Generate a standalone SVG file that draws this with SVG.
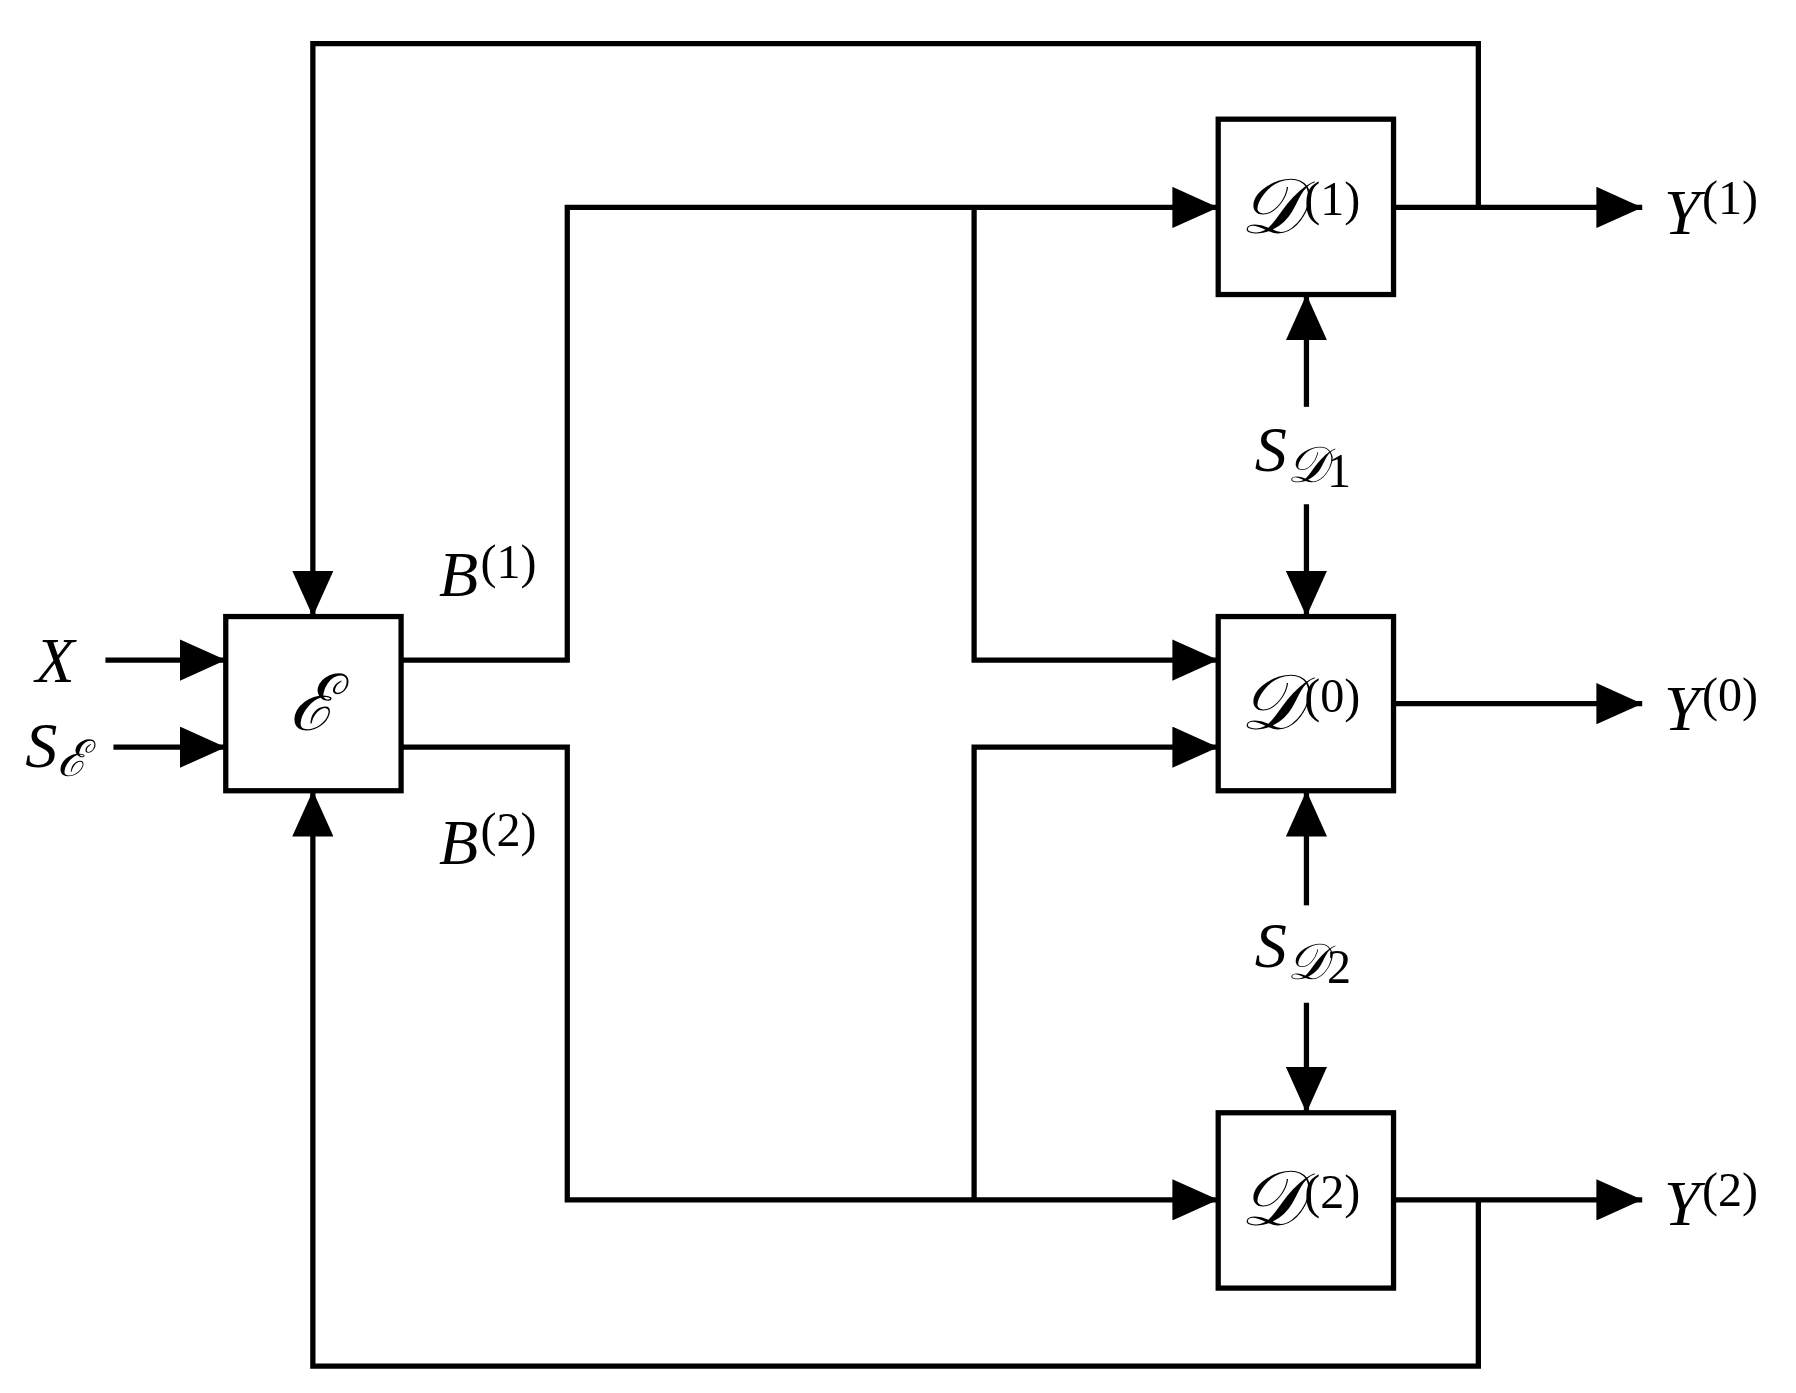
<svg xmlns="http://www.w3.org/2000/svg" width="1796" height="1393" viewBox="0 0 1796 1393">
<defs>
<style>
.box{fill:#fff;stroke:#000;stroke-width:4.6}
.ln{fill:none;stroke:#000;stroke-width:4.6;stroke-linejoin:miter}
.t{font-family:"Liberation Serif","DejaVu Serif",serif;font-size:56px;fill:#000}
.i{font-style:italic}
.s{font-family:"Liberation Serif",serif;font-size:42px;font-style:normal}
.cal{font-family:"DejaVu Serif","Liberation Serif",serif;font-style:italic;font-size:68px}
.calsub{font-family:"DejaVu Serif","Liberation Serif",serif;font-style:italic;font-size:44px}
</style>
<marker id="ah" markerUnits="userSpaceOnUse" markerWidth="42" markerHeight="36" refX="40" refY="18" orient="auto">
<path d="M0,0 L40,18 L0,36 z" fill="#000"/>
</marker>
</defs>
<rect width="1796" height="1393" fill="#fff"/>
<g transform="scale(1.146)">
<g id="connectors">
<polyline class="ln" points="1290,181 1290,38 273,38 273,538" marker-end="url(#ah)"/>
<polyline class="ln" points="1290,1047 1290,1192 273,1192 273,690" marker-end="url(#ah)"/>
<polyline class="ln" points="350,576 495,576 495,181 1063,181" marker-end="url(#ah)"/>
<polyline class="ln" points="850,181 850,576 1063,576" marker-end="url(#ah)"/>
<polyline class="ln" points="350,652 495,652 495,1047 1063,1047" marker-end="url(#ah)"/>
<polyline class="ln" points="850,1047 850,652 1063,652" marker-end="url(#ah)"/>
<line class="ln" x1="92" y1="576" x2="197" y2="576" marker-end="url(#ah)"/>
<line class="ln" x1="99" y1="652" x2="197" y2="652" marker-end="url(#ah)"/>
<line class="ln" x1="1216" y1="181" x2="1433" y2="181" marker-end="url(#ah)"/>
<line class="ln" x1="1216" y1="614" x2="1433" y2="614" marker-end="url(#ah)"/>
<line class="ln" x1="1216" y1="1047" x2="1433" y2="1047" marker-end="url(#ah)"/>
<line class="ln" x1="1140" y1="355" x2="1140" y2="257" marker-end="url(#ah)"/>
<line class="ln" x1="1140" y1="440" x2="1140" y2="538" marker-end="url(#ah)"/>
<line class="ln" x1="1140" y1="790" x2="1140" y2="690" marker-end="url(#ah)"/>
<line class="ln" x1="1140" y1="875" x2="1140" y2="971" marker-end="url(#ah)"/>
</g>
<g id="encoder">
<rect class="box" x="197" y="538" width="153" height="152"/>
<text class="t cal" x="273" y="637" text-anchor="middle">ℰ</text>
</g>
<g id="decoder1">
<rect class="box" x="1063" y="104" width="153" height="153"/>
<text class="t" x="1082" y="203"><tspan class="cal">𝒟</tspan><tspan class="s" dx="2" dy="-15">(1)</tspan></text>
</g>
<g id="decoder0">
<rect class="box" x="1063" y="538" width="153" height="152"/>
<text class="t" x="1082" y="636"><tspan class="cal">𝒟</tspan><tspan class="s" dx="2" dy="-15">(0)</tspan></text>
</g>
<g id="decoder2">
<rect class="box" x="1063" y="971" width="153" height="153"/>
<text class="t" x="1082" y="1069"><tspan class="cal">𝒟</tspan><tspan class="s" dx="2" dy="-15">(2)</tspan></text>
</g>
<g id="labels">
<text class="t i" x="48" y="595" text-anchor="middle">X</text>
<text class="t" x="22" y="669"><tspan class="i">S</tspan><tspan class="calsub" dy="8">ℰ</tspan></text>
<text class="t" x="383" y="520"><tspan class="i">B</tspan><tspan class="s" dx="2" dy="-16">(1)</tspan></text>
<text class="t" x="383" y="754"><tspan class="i">B</tspan><tspan class="s" dx="2" dy="-16">(2)</tspan></text>
<text class="t" x="1452" y="204"><tspan class="i">Y</tspan><tspan class="s" dx="2" dy="-17">(1)</tspan></text>
<text class="t" x="1452" y="637"><tspan class="i">Y</tspan><tspan class="s" dx="2" dy="-17">(0)</tspan></text>
<text class="t" x="1452" y="1069"><tspan class="i">Y</tspan><tspan class="s" dx="2" dy="-17">(2)</tspan></text>
<text class="t" x="1095" y="411"><tspan class="i">S</tspan><tspan class="calsub" dy="10">𝒟</tspan><tspan class="s" font-size="30" dy="4">1</tspan></text>
<text class="t" x="1095" y="844"><tspan class="i">S</tspan><tspan class="calsub" dy="10">𝒟</tspan><tspan class="s" font-size="30" dy="4">2</tspan></text>
</g>
</g>
</svg>
